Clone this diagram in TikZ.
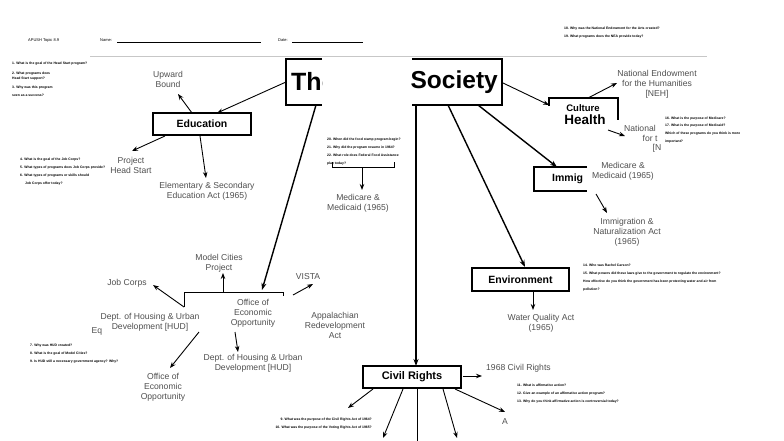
\documentclass[tikz,border=0pt]{standalone}
\usepackage{fontspec}
\setmainfont{Liberation Sans}
\usetikzlibrary{arrows.meta}
\definecolor{lblgray}{HTML}{505050}
\begin{document}
\begin{tikzpicture}[x=1pt,y=-1pt,
  lbl/.style={text=lblgray,font=\fontsize{8.6}{10}\selectfont,align=center,inner sep=0pt},
  boxlbl/.style={draw,line width=1.1pt,font=\fontsize{10.5}{12}\selectfont\bfseries,inner sep=0pt},
  qtext/.style={font=\fontsize{3.4}{7.8}\selectfont\bfseries,anchor=north west,align=left,inner sep=0pt},
  arr/.style={-{Stealth[length=6pt,width=4.5pt]},line width=0.9pt},
  arrthick/.style={-{Stealth[length=7pt,width=5pt]},line width=1.4pt}]
\useasboundingbox (0,0) rectangle (784,441);
\fill[white] (0,0) rectangle (784,441);

% header
\node[font=\fontsize{4}{5}\selectfont,anchor=west,inner sep=0pt] (topic) at (28,40) {APUSH Topic 8.9};
\node[font=\fontsize{4}{5}\selectfont,anchor=west,inner sep=0pt] (name) at (100,40) {Name:};
\coordinate (nameA) at (117,42); \coordinate (nameB) at (261,42);
\draw[line width=0.6pt] (nameA) -- (nameB);
\node[font=\fontsize{4}{5}\selectfont,anchor=west,inner sep=0pt] (date) at (278,40) {Date:};
\coordinate (dateA) at (292,42); \coordinate (dateB) at (363,42);
\draw[line width=0.6pt] (dateA) -- (dateB);
\coordinate (rulA) at (90,56.5); \coordinate (rulB) at (707,56.5);
\draw[black!22,line width=1.2pt] (rulA) -- (rulB);

% title box (partially blanked in the scan)
\fill[white] (286,58) rectangle (502,106);
\draw[line width=1.5pt] (322,59) -- (286,59) -- (286,105) -- (322,105);
\draw[line width=1.5pt] (412,59) -- (502,59) -- (502,105) -- (412,105);
\begin{scope}
  \clip (284,55) rectangle (322,110);
  \node[font=\fontsize{25}{28}\selectfont\bfseries,anchor=west,inner sep=0pt] (the) at (291,82) {The};
\end{scope}
\node[font=\fontsize{24.5}{28}\selectfont\bfseries,anchor=east,inner sep=0pt] (society) at (498,82) {Society};

% Education
\node[boxlbl,minimum width=98pt,minimum height=22pt] (edu) at (202,124) {Education};
\node[lbl] (upward) at (168,79) {Upward\\Bound};
\node[lbl] (headstart) at (131,165) {Project\\Head Start};
\node[lbl] (esea) at (207,191) {Elementary \& Secondary\\Education Act (1965)};
\coordinate (tL) at (286,82); \coordinate (eduN) at (217,113);
\draw[arr] (tL) -- (eduN);
\coordinate (eduA) at (192,113); \coordinate (ubS) at (178,94);
\draw[arr] (eduA) -- (ubS);
\coordinate (eduB) at (165,136); \coordinate (hsN) at (132,151);
\draw[arr] (eduB) -- (hsN);
\coordinate (eduC) at (200,136); \coordinate (eseaN) at (206,178);
\draw[arr] (eduC) -- (eseaN);

\node[qtext] (q1) at (12,62) {1. What is the goal of the Head Start program?};
\node[qtext,font=\fontsize{3.4}{4.6}\selectfont\bfseries] (q2) at (12,72) {2. What programs does\\Head Start support?};
\node[qtext] (q3) at (12,86) {3. Why was this program\\seen as a success?};
\node[qtext] (q4) at (20,158) {4. What is the goal of the Job Corps?\\5. What types of programs does Job Corps provide?\\6. What types of programs or skills should\\\hspace*{5pt}Job Corps offer today?};

% War on poverty / OEO
\coordinate (tB) at (316,105); \coordinate (oeoTop) at (262,290);
\draw[arrthick] (tB) -- (oeoTop);
\draw[line width=1pt] (184,307) -- (184,292) -- (283,292) -- (283,296);
\coordinate (mcS) at (223,292); \coordinate (mcN) at (223,273);
\draw[arr] (mcS) -- (mcN);
\node[lbl] (modelcities) at (219,263) {Model Cities\\Project};
\coordinate (jcS) at (184,307); \coordinate (jcN) at (153,285);
\draw[arr] (jcS) -- (jcN);
\node[lbl] (jobcorps) at (127,283) {Job Corps};
\coordinate (viS) at (293,295); \coordinate (viN) at (313,284);
\draw[arr] (viS) -- (viN);
\node[lbl] (vista) at (308,277) {VISTA};
\node[lbl] (oeo) at (253,313) {Office of\\Economic\\Opportunity};
\node[lbl] (appal) at (335,325) {Appalachian\\Redevelopment\\Act};
\node[lbl] (hud1) at (150,322) {Dept. of Housing \& Urban\\Development [HUD]};
\node[lbl] (eq) at (97,331) {Eq};
\coordinate (oeo2S) at (199,332); \coordinate (oeo2N) at (170,368);
\draw[arr] (oeo2S) -- (oeo2N);
\node[lbl] (oeo2) at (163,387) {Office of\\Economic\\Opportunity};
\coordinate (hudS) at (235,332); \coordinate (hudN) at (238,352);
\draw[arr] (hudS) -- (hudN);
\node[lbl] (hud2) at (253,363) {Dept. of Housing \& Urban\\Development [HUD]};
\node[qtext] (q7) at (30,344) {7. Why was HUD created?\\8. What is the goal of Model Cities?\\9. Is HUD still a necessary government agency? Why?};

% Food stamps / Medicare
\node[qtext] (q20) at (327,138) {20. When did the food stamp program begin?\\21. Why did the program resume in 1964?\\22. What role does Federal Food Assistance\\play today?};
\draw[line width=0.8pt] (332,162) -- (332,167) -- (394,167) -- (394,162);
\coordinate (fsS) at (362,167); \coordinate (fsN) at (362,190);
\draw[arr] (fsS) -- (fsN);
\node[lbl] (medicare1) at (358,203) {Medicare \&\\Medicaid (1965)};

% Culture / Health
\coordinate (sR) at (503,83); \coordinate (cuW) at (549,105);
\draw[arr] (sR) -- (cuW);
\draw[line width=1.1pt] (549,106) -- (549,98) -- (618,98) -- (618,120);
\node[font=\fontsize{9.5}{11}\selectfont\bfseries,inner sep=0pt] (culture) at (583,108) {Culture};
\node[font=\fontsize{13.5}{15}\selectfont\bfseries,inner sep=0pt] (health) at (585,120) {Health};
\coordinate (cuN) at (588,98); \coordinate (nehS) at (617,83);
\draw[arr] (cuN) -- (nehS);
\node[lbl] (neh) at (657,84) {National Endowment\\for the Humanities\\{[NEH]}};
\coordinate (heE) at (608,130); \coordinate (neaW) at (625,136);
\draw[arr] (heE) -- (neaW);
\node[lbl,anchor=west] (neaA) at (624,128) {National};
\node[lbl,anchor=west] (neaB) at (642.5,138) {for t};
\node[lbl,anchor=west] (neaC) at (652.5,148) {[N};
\node[qtext] (q18) at (564,27) {18. Why was the National Endowment for the Arts created?\\19. What programs does the NEA provide today?};
\node[qtext] (q16) at (665,116.5) {16. What is the purpose of Medicare?\\17. What is the purpose of Medicaid?\\Which of these programs do you think is more\\important?};

% Immigration
\coordinate (sB3) at (478,105); \coordinate (imN) at (557,167);
\draw[arrthick] (sB3) -- (imN);
\draw[line width=1.1pt] (587,167) -- (534,167) -- (534,191) -- (587,191);
\node[font=\fontsize{10.5}{12}\selectfont\bfseries,anchor=west,inner sep=0pt] (immig) at (552,179) {Immig};
\node[lbl] (medicare2) at (623,171) {Medicare \&\\Medicaid (1965)};
\coordinate (imS) at (596,194); \coordinate (inaN) at (607,213);
\draw[arr] (imS) -- (inaN);
\node[lbl] (ina) at (627,232) {Immigration \&\\Naturalization Act\\(1965)};

% Environment
\node[boxlbl,minimum width=97pt,minimum height=23pt] (env) at (520.5,279.5) {Environment};
\coordinate (sB2) at (448,105); \coordinate (envN) at (525,267);
\draw[arrthick] (sB2) -- (envN);
\coordinate (envS) at (533,291); \coordinate (wqN) at (533,310);
\draw[arr] (envS) -- (wqN);
\node[lbl] (wqa) at (541,323) {Water Quality Act\\(1965)};
\node[qtext] (q14) at (583,264) {14. Who was Rachel Carson?\\15. What powers did these laws give to the government to regulate the environment?\\How effective do you think the government has been protecting water and air from\\pollution?};

% Civil Rights
\node[boxlbl,minimum width=98pt,minimum height=22pt,font=\fontsize{11}{12}\selectfont\bfseries] (cr) at (412,377) {Civil Rights};
\coordinate (sB1) at (416,105); \coordinate (crN) at (416,366);
\draw[arrthick] (sB1) -- (crN);
\coordinate (crE) at (463,376); \coordinate (c68W) at (482,376);
\draw[arr] (crE) -- (c68W);
\node[lbl,anchor=west] (cr68) at (486,368) {1968 Civil Rights};
\coordinate (crSE) at (455,389); \coordinate (aaN) at (505,412);
\draw[arr] (crSE) -- (aaN);
\node[lbl] (aa) at (505,422) {A};
\coordinate (crS1) at (373,389); \coordinate (crT1) at (348,408);
\draw[arr] (crS1) -- (crT1);
\coordinate (crS2) at (403,389); \coordinate (crT2) at (383,438);
\draw[arr] (crS2) -- (crT2);
\coordinate (crS3) at (417,389); \coordinate (crT3) at (417,441);
\draw[line width=1pt] (crS3) -- (crT3);
\coordinate (crS4) at (443,389); \coordinate (crT4) at (457,438);
\draw[arr] (crS4) -- (crT4);
\node[qtext,anchor=north east,align=right] (q9) at (372,418) {9. What was the purpose of the Civil Rights Act of 1964?\\10. What was the purpose of the Voting Rights Act of 1965?};
\node[qtext] (q11) at (517,384) {11. What is affirmative action?\\12. Give an example of an affirmative action program?\\13. Why do you think affirmative action is controversial today?};
\end{tikzpicture}
\end{document}
